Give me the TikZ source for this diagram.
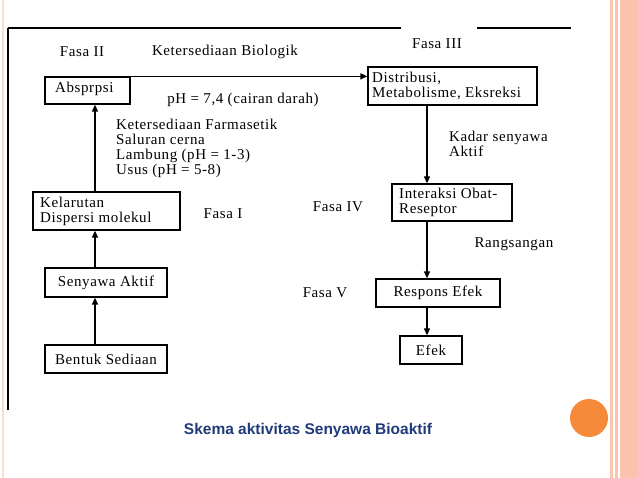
\documentclass[tikz,border=0pt]{standalone}
\usepackage{fontspec}
\setmainfont[LetterSpace=4]{Liberation Serif}
\newfontfamily\capfont{Liberation Sans}
\usetikzlibrary{arrows.meta}
\definecolor{salmon}{HTML}{F9C3AE}
\definecolor{orng}{HTML}{F58B3A}
\definecolor{capblue}{HTML}{1F3B7A}
\begin{document}
\begin{tikzpicture}[x=1pt,y=-1pt,
  bx/.style={draw,line width=1.3pt,inner sep=0pt},
  lbl/.style={font=\fontsize{15}{15}\selectfont,align=left,inner sep=0pt},
  arr/.style={line width=1.5pt,-{Triangle[length=7pt,width=6pt]}}]
\useasboundingbox (0,0) rectangle (638,478);
\fill[salmon] (610,0) rectangle (638,478);
\fill[white] (613,0) rectangle (615,478);
\fill[white] (618,0) rectangle (620,478);
\fill[salmon!60] (2,0) rectangle (4,478);
\draw[line width=1.3pt] (8,28) -- (8,410);
\draw[line width=1.3pt] (8,28) -- (401,28);
\draw[line width=1.3pt] (477,28) -- (571,28);
\fill[orng] (589,418) circle (19);
% boxes
\node[bx,minimum width=85,minimum height=27] (abs) at (87.5,90.5) {};
\node[lbl,anchor=west] at (55,89) {Absprpsi};
\node[bx,minimum width=169,minimum height=38] (dis) at (452.5,86) {};
\node[lbl,anchor=west] at (372,86) {Distribusi,\\Metabolisme, Eksreksi};
\node[bx,minimum width=147,minimum height=38] (kel) at (106.5,211) {};
\node[lbl,anchor=west] at (40,211) {Kelarutan\\Dispersi molekul};
\node[bx,minimum width=122,minimum height=29] (sen) at (106,282.5) {};
\node[lbl] at (106,282.5) {Senyawa Aktif};
\node[bx,minimum width=122,minimum height=28] (ben) at (106,359) {};
\node[lbl] at (106,359) {Bentuk Sediaan};
\node[bx,minimum width=120,minimum height=37] (int) at (452,202.5) {};
\node[lbl,anchor=west] at (399,202.5) {Interaksi Obat-\\Reseptor};
\node[bx,minimum width=124,minimum height=28] (res) at (438,293) {};
\node[lbl] at (438,293) {Respons Efek};
\node[bx,minimum width=62,minimum height=28] (efk) at (431,350) {};
\node[lbl] at (431,350) {Efek};
% arrows
\draw[arr] (ben.north -| 95,0) -- (sen.south -| 95,0);
\draw[arr] (sen.north -| 95,0) -- (kel.south -| 95,0);
\draw[arr] (kel.north -| 95,0) -- (abs.south -| 95,0);
\draw[arr] (abs.north east) -- (abs.north east -| dis.west);
\draw[arr] (dis.south -| 427,0) -- (int.north -| 427,0);
\draw[arr] (int.south -| 427,0) -- (res.north -| 427,0);
\draw[arr] (res.south -| 427,0) -- (efk.north -| 427,0);
% labels
\node[lbl] at (82,52) {Fasa II};
\node[lbl] at (225,52) {Ketersediaan Biologik};
\node[lbl] at (437,44) {Fasa III};
\node[lbl] at (243,100) {pH = 7,4 (cairan darah)};
\node[lbl,anchor=north west] at (116,119) {Ketersediaan Farmasetik\\Saluran cerna\\Lambung (pH = 1-3)\\Usus (pH = 5-8)};
\node[lbl] at (223,214) {Fasa I};
\node[lbl] at (338,207) {Fasa IV};
\node[lbl,anchor=west] at (449,144) {Kadar senyawa\\Aktif};
\node[lbl] at (514,244) {Rangsangan};
\node[lbl] at (325,293) {Fasa V};
\node[font=\capfont\bfseries\fontsize{15.5}{17}\selectfont,text=capblue] at (308,430) {Skema aktivitas Senyawa Bioaktif};
\end{tikzpicture}
\end{document}
